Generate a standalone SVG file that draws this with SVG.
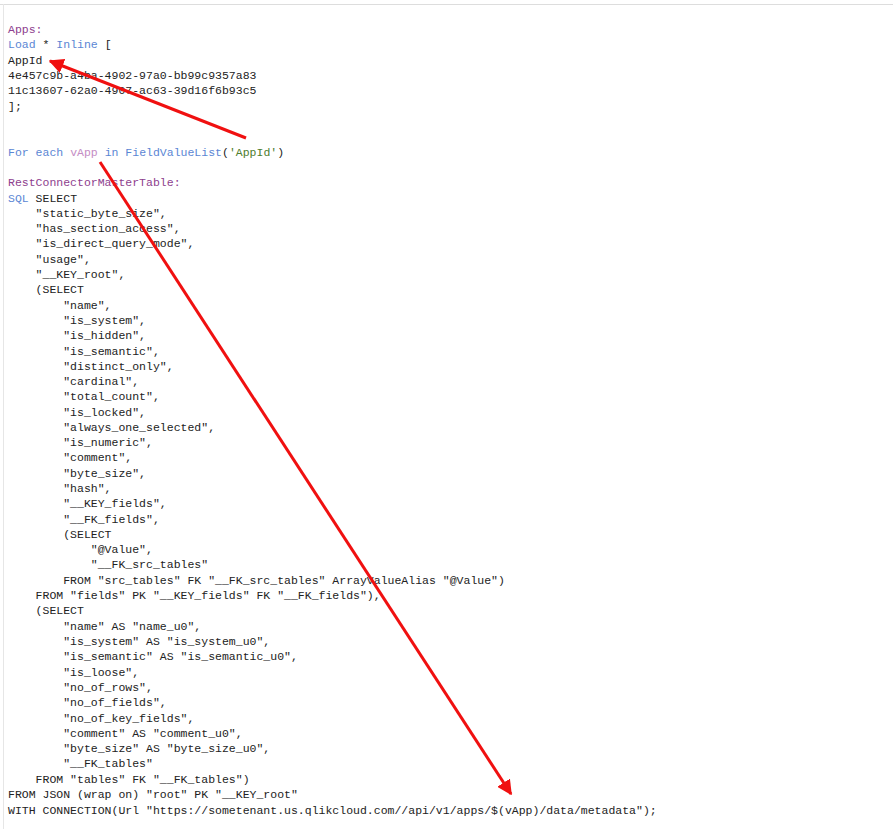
<svg xmlns="http://www.w3.org/2000/svg" width="893" height="829" viewBox="0 0 893 829">
<style>
text{font-family:"Liberation Mono","DejaVu Sans Mono",monospace;font-size:11.5px;fill:#222;white-space:pre}
.p{fill:#8e3e8e}.b{fill:#5b86d4}.v{fill:#c48cc4}.g{fill:#4e7d2e}
.arr{stroke:#f01010;stroke-width:3;fill:none}
</style>
<defs><marker id="ah" viewBox="0 0 10 10" refX="9" refY="5" markerWidth="5" markerHeight="5" orient="auto" markerUnits="strokeWidth"><path d="M0,0L10,5L0,10z" fill="#f01010"/></marker></defs>
<rect width="893" height="829" fill="#fff"/>
<line x1="0" y1="4.5" x2="893" y2="4.5" stroke="#ddd"/>
<line x1="3.5" y1="4" x2="3.5" y2="829" stroke="#e6e6e6"/>
<g id="code">
<text x="8" y="33" class="p">Apps:</text>
<text x="8" y="48"><tspan class="b">Load</tspan> * <tspan class="b">Inline</tspan> [</text>
<text x="8" y="64">AppId</text>
<text x="8" y="79">4e457c9b-a4ba-4902-97a0-bb99c9357a83</text>
<text x="8" y="94">11c13607-62a0-4907-ac63-39d16f6b93c5</text>
<text x="8" y="110">];</text>
<text x="8" y="156"><tspan class="b">For each</tspan> <tspan class="v">vApp</tspan> <tspan class="b">in</tspan> <tspan class="b">FieldValueList</tspan>(<tspan class="g">'AppId'</tspan>)</text>
<text x="8" y="186" class="p">RestConnectorMasterTable:</text>
<text x="8" y="202"><tspan class="b">SQL</tspan> SELECT</text>
<text x="8" y="217">    "static_byte_size",</text>
<text x="8" y="232">    "has_section_access",</text>
<text x="8" y="247">    "is_direct_query_mode",</text>
<text x="8" y="263">    "usage",</text>
<text x="8" y="278">    "__KEY_root",</text>
<text x="8" y="293">    (SELECT</text>
<text x="8" y="309">        "name",</text>
<text x="8" y="324">        "is_system",</text>
<text x="8" y="339">        "is_hidden",</text>
<text x="8" y="355">        "is_semantic",</text>
<text x="8" y="370">        "distinct_only",</text>
<text x="8" y="385">        "cardinal",</text>
<text x="8" y="400">        "total_count",</text>
<text x="8" y="416">        "is_locked",</text>
<text x="8" y="431">        "always_one_selected",</text>
<text x="8" y="446">        "is_numeric",</text>
<text x="8" y="461">        "comment",</text>
<text x="8" y="477">        "byte_size",</text>
<text x="8" y="492">        "hash",</text>
<text x="8" y="507">        "__KEY_fields",</text>
<text x="8" y="523">        "__FK_fields",</text>
<text x="8" y="538">        (SELECT</text>
<text x="8" y="553">            "@Value",</text>
<text x="8" y="568">            "__FK_src_tables"</text>
<text x="8" y="584">        FROM "src_tables" FK "__FK_src_tables" ArrayValueAlias "@Value")</text>
<text x="8" y="599">    FROM "fields" PK "__KEY_fields" FK "__FK_fields"),</text>
<text x="8" y="614">    (SELECT</text>
<text x="8" y="630">        "name" AS "name_u0",</text>
<text x="8" y="645">        "is_system" AS "is_system_u0",</text>
<text x="8" y="660">        "is_semantic" AS "is_semantic_u0",</text>
<text x="8" y="676">        "is_loose",</text>
<text x="8" y="691">        "no_of_rows",</text>
<text x="8" y="706">        "no_of_fields",</text>
<text x="8" y="722">        "no_of_key_fields",</text>
<text x="8" y="737">        "comment" AS "comment_u0",</text>
<text x="8" y="752">        "byte_size" AS "byte_size_u0",</text>
<text x="8" y="767">        "__FK_tables"</text>
<text x="8" y="783">    FROM "tables" FK "__FK_tables")</text>
<text x="8" y="798">FROM JSON (wrap on) "root" PK "__KEY_root"</text>
<text x="8" y="814">WITH CONNECTION(Url "https://sometenant.us.qlikcloud.com//api/v1/apps/$(vApp)/data/metadata");</text>
</g>
<g id="connectors">
<line class="arr" x1="246" y1="138" x2="50" y2="61" marker-end="url(#ah)"/>
<line class="arr" x1="100" y1="162" x2="511" y2="794" marker-end="url(#ah)"/>
</g>
</svg>
